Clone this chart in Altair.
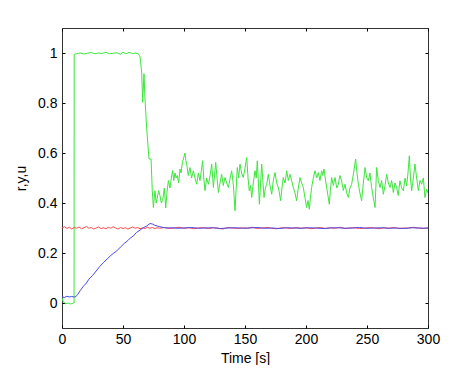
import altair as alt
import pandas as pd

# ---- data ----
green_t = [0, 1, 3, 5, 7, 9.5, 9.9, 10.0, 12, 15, 18, 21, 24, 27, 30, 33, 36, 39, 42, 45, 48, 50, 52, 55, 58, 60, 62.6,
           64, 65.3, 66.1, 67.2, 68, 69.4, 71.3, 73, 74, 74.9, 76.2, 77.2, 78.1, 79.2, 80.3, 81.4, 82.5, 83.9, 85, 86,
           87.2, 88.5, 89.6, 90.7, 91.6, 92.6, 93.5, 94.5, 95.6, 96.7, 97.6, 98.6, 99.7, 100.8, 101.5,
           102.2, 103.5, 104.9, 106.2, 107.7, 109, 110.4, 111.8, 113.1, 114.2, 115.3, 116.2, 117.2, 118.6, 120.0,
           121.4, 122.7, 124.1, 126.0, 127.1, 128.2, 129.5, 130.9, 132.2, 133.6, 135, 136.4, 137.8, 139.1, 140.5,
           141.8, 142.8, 143.7, 144.8, 145.9, 147.2, 148.6, 150, 151.4, 152.5, 153.5, 154.5, 155.5, 156.8, 158.2,
           159.2, 160.1, 161, 161.8, 162.8, 163.7, 164.6, 165.6, 166.7, 167.8, 169.1, 170.5, 171.9, 173.2, 174.6,
           176, 177.3, 178.2, 179.2, 180.3, 181.4, 182.8, 184.2, 185.5, 186.9, 188.2, 189.6, 191, 192.3, 193.7,
           195.1, 196.4, 197.8, 199.2, 200.5, 201.6, 202.7, 203.6, 204.6, 206, 207.4, 208.8, 210.1, 211.4, 212.8,
           213.8, 214.7, 215.8, 216.9, 218, 219.1, 220, 221.0, 222.4, 223.8, 225.2, 226.5, 227.8, 229.2, 230.6,
           232.0, 233.4, 234.7, 236, 237.4, 239, 240.7, 241.8, 242.9, 244.2, 245.6, 247, 248.4, 249.8, 251.1,
           252.4, 253.8, 255.2, 256.6, 257.9, 259.3, 260.7, 262, 263.4, 264.8, 266.1, 267.5, 268.9, 270.2, 271.6,
           273, 274.3, 275.6, 277.0, 278.4, 279.8, 281.2, 282.5, 283.6, 284.7, 285.6, 286.6, 288, 289.3, 290.7,
           292.1, 293.4, 294.8, 296.2, 297.5, 298.9, 300]
green_u = [0.02, 0.005, -0.003, 0.0, -0.004, 0.0, 0.0, 0.995, 0.997, 1.0, 0.996, 0.999, 1.002, 0.997, 1.0, 0.998,
           1.003, 0.997, 0.999, 1.001, 0.995, 1.004, 0.997, 1.002, 0.998, 1.0, 0.997,
           0.984, 0.924, 0.803, 0.917, 0.82, 0.70, 0.576, 0.576, 0.449, 0.382, 0.449, 0.40, 0.42, 0.45, 0.43, 0.40,
           0.41, 0.46, 0.38, 0.44, 0.49, 0.46, 0.50, 0.53, 0.49, 0.52, 0.50, 0.51, 0.48, 0.536, 0.52, 0.56, 0.58,
           0.60, 0.57,
           0.556, 0.51, 0.542, 0.50, 0.529, 0.50, 0.475, 0.52, 0.489, 0.53, 0.569, 0.50, 0.449, 0.50, 0.475,
           0.51, 0.556, 0.462, 0.562, 0.50, 0.442, 0.48, 0.515, 0.47, 0.502, 0.48, 0.462, 0.50, 0.529, 0.47,
           0.369, 0.46, 0.542, 0.50, 0.556, 0.52, 0.502, 0.54, 0.582, 0.50, 0.449, 0.47, 0.422, 0.48, 0.529,
           0.50, 0.569, 0.48, 0.395, 0.48, 0.556, 0.49, 0.422, 0.46, 0.475, 0.515, 0.47, 0.435, 0.49, 0.522,
           0.48, 0.462, 0.44, 0.409, 0.46, 0.502, 0.48, 0.529, 0.49, 0.515, 0.49, 0.462, 0.44, 0.409, 0.46,
           0.502, 0.48, 0.462, 0.42, 0.382, 0.41, 0.375, 0.42, 0.462, 0.50, 0.529, 0.50, 0.522, 0.49, 0.529,
           0.51, 0.536, 0.50, 0.462, 0.43, 0.395, 0.45, 0.502, 0.47, 0.502, 0.46, 0.475, 0.51, 0.489, 0.45,
           0.475, 0.44, 0.422, 0.46, 0.475, 0.52, 0.576, 0.52, 0.475, 0.44, 0.409, 0.48, 0.542, 0.50, 0.489,
           0.52, 0.462, 0.42, 0.382, 0.542, 0.49, 0.462, 0.49, 0.435, 0.47, 0.515, 0.48, 0.462, 0.49, 0.442,
           0.48, 0.462, 0.43, 0.489, 0.46, 0.449, 0.50, 0.469, 0.52, 0.589, 0.50, 0.449, 0.50, 0.556, 0.50,
           0.449, 0.49, 0.475, 0.50, 0.422, 0.455, 0.44]

red_t = [0, 2, 4, 6, 8, 10, 12, 14, 16, 18, 20, 22, 24, 26, 28, 30, 32, 34, 36, 38, 40, 42, 44, 46, 48, 50,
         52, 54, 56, 58, 60, 62, 64, 66, 68, 70, 72, 74, 76, 78, 80, 84, 88, 92, 96, 100, 104, 108, 112, 116,
         120, 124, 128, 132, 136, 140, 144, 148, 152, 156, 160, 164, 168, 172, 176, 180, 184, 188, 192, 196,
         200, 204, 208, 212, 216, 220, 224, 228, 232, 236, 240, 244, 248, 252, 256, 260, 264, 268, 272, 276,
         280, 284, 288, 292, 296, 300]
red_r = [0.300, 0.305, 0.298, 0.303, 0.296, 0.302, 0.299, 0.304, 0.297, 0.301, 0.306, 0.299, 0.302, 0.296,
         0.300, 0.304, 0.298, 0.301, 0.297, 0.303, 0.299, 0.305, 0.300, 0.296, 0.302, 0.298, 0.301, 0.296,
         0.300, 0.304, 0.299, 0.302, 0.297, 0.301, 0.298, 0.303, 0.299, 0.302, 0.298, 0.301, 0.299, 0.302,
         0.298, 0.300, 0.303, 0.299, 0.301, 0.297, 0.300, 0.302, 0.298, 0.301, 0.299, 0.296, 0.302, 0.300,
         0.298, 0.301, 0.299, 0.303, 0.298, 0.300, 0.302, 0.299, 0.297, 0.301, 0.300, 0.298, 0.302, 0.299,
         0.301, 0.297, 0.300, 0.302, 0.298, 0.301, 0.299, 0.303, 0.298, 0.300, 0.301, 0.298, 0.299, 0.302,
         0.300, 0.297, 0.301, 0.299, 0.302, 0.298, 0.300, 0.299, 0.303, 0.300, 0.298, 0.301]

blue_t = [0, 2, 4, 6, 8, 10, 11.5, 13, 15, 17.5, 20, 22, 25, 28, 31.1, 34, 37, 40, 42, 44.8, 48, 51, 54, 56,
          58.5, 61, 64, 67, 69.4, 72.1, 74, 76, 78, 80.3, 83, 86, 90, 95, 100, 106, 112, 118, 124, 130, 136,
          142, 148, 154, 160, 166, 172, 178, 184, 190, 196, 202, 208, 214, 220, 226, 232, 238, 244, 250, 256,
          262, 268, 274, 280, 286, 292, 300]
blue_y = [0.025, 0.022, 0.027, 0.024, 0.026, 0.024, 0.026, 0.035, 0.05, 0.067, 0.08, 0.095, 0.11, 0.128,
          0.147, 0.162, 0.176, 0.19, 0.198, 0.208, 0.224, 0.238, 0.25, 0.26, 0.268, 0.282, 0.292, 0.302,
          0.308, 0.318, 0.316, 0.311, 0.308, 0.305, 0.302, 0.300, 0.301, 0.299, 0.300, 0.302, 0.299, 0.300,
          0.301, 0.298, 0.300, 0.301, 0.299, 0.300, 0.302, 0.299, 0.300, 0.298, 0.301, 0.300, 0.299, 0.301,
          0.300, 0.298, 0.300, 0.301, 0.299, 0.300, 0.302, 0.299, 0.300, 0.301, 0.299, 0.300, 0.298, 0.301,
          0.300, 0.299]

x_ticks = [0, 50, 100, 150, 200, 250, 300]
y_ticks = [0, 0.2, 0.4, 0.6, 0.8, 1]

green = pd.DataFrame({"t": green_t, "v": green_u})
red = pd.DataFrame({"t": red_t, "v": red_r})
blue = pd.DataFrame({"t": blue_t, "v": blue_y})

FONT = "Liberation Sans"
xs = alt.Scale(domain=[0, 300], nice=False, zero=False)
ys = alt.Scale(domain=[-0.1, 1.1], nice=False, zero=False)

common = dict(offset=-3, tickSize=3, domain=False, grid=False, tickColor="#000000",
              labelFont=FONT, labelFontSize=14, labelColor="#000000",
              titleFont=FONT, titleFontSize=14, titleFontWeight="normal", titleColor="#000000")

x_main = alt.Axis(orient="bottom", values=x_ticks, title="Time [s]", labelPadding=4, titlePadding=5,
                  labelFlush=False, **common)
y_main = alt.Axis(orient="left", values=y_ticks, title="r,y,u", labelPadding=5, titlePadding=9,
                  format="~g", **common)
x_top = alt.Axis(orient="top", values=x_ticks, title=None, labels=False, **common)
y_right = alt.Axis(orient="right", values=y_ticks, title=None, labels=False, **common)

g = alt.Chart(green).mark_line(color="#3ce63c", strokeWidth=1, clip=True).encode(
    x=alt.X("t:Q", scale=xs, axis=x_main),
    y=alt.Y("v:Q", scale=ys, axis=y_main),
)
r = alt.Chart(red).mark_line(color="#ff4a4a", strokeWidth=1, clip=True).encode(
    x=alt.X("t:Q", scale=xs, axis=x_top),
    y=alt.Y("v:Q", scale=ys, axis=y_right),
)
b = alt.Chart(blue).mark_line(color="#4a4ae6", strokeWidth=1, clip=True).encode(
    x=alt.X("t:Q", scale=xs, axis=None),
    y=alt.Y("v:Q", scale=ys, axis=None),
)

chart = alt.layer(g, r, b).resolve_axis(x="independent", y="independent").properties(
    width=366, height=300,
    autosize=alt.AutoSizeParams(type="none"),
    padding={"left": 54, "top": 20, "right": 30, "bottom": 37},
    background="#ffffff",
).configure_view(stroke="#333333", strokeWidth=1)

chart.save("out.html", embed_options={"renderer": "svg", "actions": False})
